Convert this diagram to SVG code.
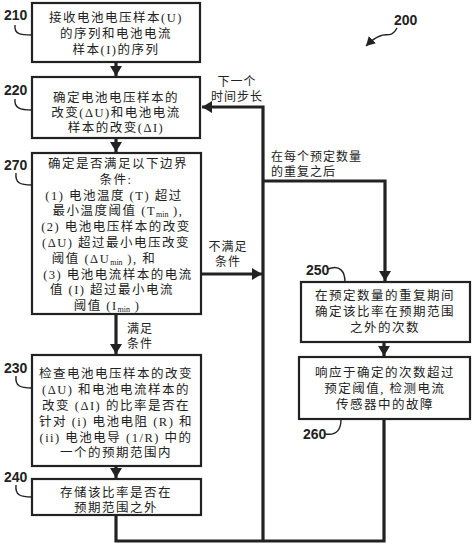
<svg xmlns="http://www.w3.org/2000/svg" width="474" height="546" viewBox="0 0 474 546">
<style>
.box{fill:#fff;stroke:#222;stroke-width:2.2}
.t{font-family:"Liberation Serif","Noto Sans CJK SC",serif;font-size:12.5px;letter-spacing:1.5px;fill:#222;text-anchor:middle}
.e{font-family:"Liberation Serif","Noto Sans CJK SC",serif;font-size:12px;letter-spacing:1px;fill:#222}
.ref{font-family:"Liberation Sans",Arial,sans-serif;font-size:14px;font-weight:bold;fill:#222}
.c{fill:none;stroke:#222;stroke-width:3.2}
.sq{fill:none;stroke:#222;stroke-width:1.4}
.sub{font-size:8px;letter-spacing:0}
</style>
<defs>
<marker id="ah" markerUnits="userSpaceOnUse" markerWidth="12" markerHeight="12" refX="10" refY="6" orient="auto">
<path d="M0,0 L10,6 L0,12 Z" fill="#222"/>
</marker>
<marker id="ah2" markerUnits="userSpaceOnUse" markerWidth="10" markerHeight="10" refX="9" refY="5" orient="auto">
<path d="M0,0 L9,5 L0,10 Z" fill="#222"/>
</marker>
</defs>

<g id="connectors">
<path class="c" d="M116,62 V76" marker-end="url(#ah)"/>
<path class="c" d="M116,138 V152" marker-end="url(#ah)"/>
<path class="c" d="M116,314 V354" marker-end="url(#ah)"/>
<path class="c" d="M116,466 V478" marker-end="url(#ah)"/>
<path class="c" d="M116,515 V541 H384 V419"/>
<path class="c" d="M263,541 V107 H202" marker-end="url(#ah)"/>
<path class="c" d="M201,274 H262" marker-end="url(#ah)"/>
<path class="c" d="M263,181 H385 V281" marker-end="url(#ah)"/>
<path class="c" d="M384,342 V356" marker-end="url(#ah)"/>
<text class="e" x="237" y="86" text-anchor="middle">下一个</text>
<text class="e" x="237" y="101" text-anchor="middle">时间步长</text>
<text class="e" x="271" y="161">在每个预定数量</text>
<text class="e" x="271" y="176">的重复之后</text>
<text class="e" x="228" y="251" text-anchor="middle">不满足</text>
<text class="e" x="228" y="266" text-anchor="middle">条件</text>
<text class="e" x="127" y="333">满足</text>
<text class="e" x="127" y="348">条件</text>
</g>

<g id="label200">
<text class="ref" x="394" y="25">200</text>
<path class="sq" d="M397,28 C392,38 386,33 380,36 C374,38 370,42 366,46" marker-end="url(#ah2)"/>
</g>

<g id="n210">
<rect class="box" x="32" y="3" width="168" height="59"/>
<text class="t" x="116" y="22">接收电池电压样本(U)</text>
<text class="t" x="116" y="38">的序列和电池电流</text>
<text class="t" x="116" y="54">样本(I)的序列</text>
<text class="ref" x="4" y="20">210</text>
<path class="sq" d="M15,25 C14,34 20,35 32,35"/>
</g>

<g id="n220">
<rect class="box" x="32" y="77" width="168" height="61"/>
<text class="t" x="116" y="102">确定电池电压样本的</text>
<text class="t" x="116" y="117">改变(ΔU)和电池电流</text>
<text class="t" x="116" y="132">样本的改变(ΔI)</text>
<text class="ref" x="4" y="95">220</text>
<path class="sq" d="M15,99 C14,108 20,110 32,110"/>
</g>

<g id="n270">
<rect class="box" x="32" y="153" width="169" height="161"/>
<text class="t" x="118" y="168">确定是否满足以下边界</text>
<text class="t" x="116" y="184">条件:</text>
<text class="t" x="114" y="200">(1) 电池温度 (T) 超过</text>
<text class="t" x="118" y="215">最小温度阈值 (T<tspan class="sub" dy="2">min</tspan><tspan dy="-2"> ),</tspan></text>
<text class="t" x="116" y="231">(2) 电池电压样本的改变</text>
<text class="t" x="116" y="247">(ΔU) 超过最小电压改变</text>
<text class="t" x="104" y="263">阈值 (ΔU<tspan class="sub" dy="2">min</tspan><tspan dy="-2"> ), 和</tspan></text>
<text class="t" x="118" y="279">(3) 电池电流样本的电流</text>
<text class="t" x="112" y="294">值 (I) 超过最小电流</text>
<text class="t" x="107" y="310">阈值 (I<tspan class="sub" dy="2">min</tspan><tspan dy="-2"> )</tspan></text>
<text class="ref" x="4" y="170">270</text>
<path class="sq" d="M16,173 C15,183 20,185 32,185"/>
</g>

<g id="n230">
<rect class="box" x="32" y="355" width="169" height="111"/>
<text class="t" x="116" y="378">检查电池电压样本的改变</text>
<text class="t" x="116" y="394">(ΔU) 和电池电流样本的</text>
<text class="t" x="116" y="410">改变 (ΔI) 的比率是否在</text>
<text class="t" x="116" y="426">针对 (i) 电池电阻 (R) 和</text>
<text class="t" x="116" y="442">(ii) 电池电导 (1/R) 中的</text>
<text class="t" x="116" y="457">一个的预期范围内</text>
<text class="ref" x="4" y="373">230</text>
<path class="sq" d="M16,376 C15,386 20,388 32,388"/>
</g>

<g id="n240">
<rect class="box" x="32" y="479" width="169" height="36"/>
<text class="t" x="116" y="497">存储该比率是否在</text>
<text class="t" x="116" y="512">预期范围之外</text>
<text class="ref" x="4" y="482">240</text>
<path class="sq" d="M16,485 C15,495 20,497 32,497"/>
</g>

<g id="n250">
<rect class="box" x="301" y="282" width="169" height="60"/>
<text class="t" x="385" y="300">在预定数量的重复期间</text>
<text class="t" x="385" y="316">确定该比率在预期范围</text>
<text class="t" x="385" y="332">之外的次数</text>
<text class="ref" x="306" y="275">250</text>
<path class="sq" d="M328,269 C340,264 345,272 345,282"/>
</g>

<g id="n260">
<rect class="box" x="299" y="357" width="171" height="62"/>
<text class="t" x="385" y="377">响应于确定的次数超过</text>
<text class="t" x="385" y="393">预定阈值, 检测电流</text>
<text class="t" x="385" y="409">传感器中的故障</text>
<text class="ref" x="303" y="439">260</text>
<path class="sq" d="M325,434 C338,436 341,428 341,419"/>
</g>
</svg>
